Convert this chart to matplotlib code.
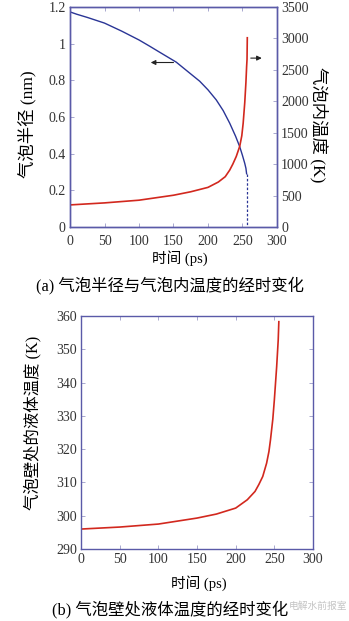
import numpy as np
import matplotlib
matplotlib.use("Agg")
import matplotlib.pyplot as plt

plt.rcParams['font.family'] = ['Liberation Serif', 'Noto Sans CJK SC', 'DejaVu Sans']

# (a) bubble radius (nm)
t_r = [0, 10, 25, 50, 75, 100, 115, 130, 154, 170, 188, 200, 212, 222, 231.5,
       240, 246, 250, 253.3, 255, 256]
r_nm = [1.173, 1.16, 1.143, 1.112, 1.068, 1.02, 0.987, 0.953, 0.899, 0.85, 0.795,
        0.748, 0.693, 0.635, 0.566, 0.495, 0.438, 0.39, 0.347, 0.32, 0.29]

# (a) temperature inside bubble (K)
t_in = [0, 50, 100, 150, 175, 200, 215, 225, 231.5, 236, 241, 246, 249, 251, 253.3,
        255, 256, 256.6, 257]
T_in = [351, 383, 426, 505, 560, 630, 715, 800, 905, 1000, 1122, 1283, 1450, 1650,
        1977, 2300, 2550, 2666, 3010]

# (b) liquid temperature at bubble wall (K)
t_w = [0, 50, 100, 150, 175, 200, 215, 225, 230, 235, 240, 243, 245, 248, 250, 253,
       255, 255.8]
T_w = [296.0, 296.6, 297.5, 299.3, 300.5, 302.3, 304.8, 307.3, 309.4, 311.8, 315.8,
       319.3, 322.8, 329.0, 334.8, 344.8, 352.8, 358.3]

xticks = [0, 50, 100, 150, 200, 250, 300]
frame = '#5a5aa8'
red = '#d2281e'
blue = '#2a3596'
tick_col = '#333333'

fig = plt.figure(figsize=(3.49, 6.21), dpi=100)


def style(ax):
    for s in ax.spines.values():
        s.set_color(frame)
        s.set_linewidth(1.0)
    ax.tick_params(direction='in', length=3, width=0.6, color='#9a9ac8', labelsize=10,
                   labelcolor=tick_col, pad=3)


# top panel
ax1 = fig.add_axes([0.2006, 0.6345, 0.593, 0.3543])
ax1.plot(t_r, r_nm, color=blue, lw=1.0)
ax1.plot([t_r[-1], t_r[-1]], [r_nm[-1], 0], color=blue, lw=0.9, ls=(0, (2, 1.5)))
ax1.set_xlim(0, 300)
ax1.set_ylim(0, 1.2)
ax1.set_xticks(xticks)
ax1.set_yticks([0, 0.2, 0.4, 0.6, 0.8, 1, 1.2])
ax1.set_yticklabels(['0', '0.2', '0.4', '0.6', '0.8', '1', '1.2'])
ax1.annotate('', xy=(113, 0.897), xytext=(154, 0.897),
             arrowprops=dict(arrowstyle='-|>', color='#222222', lw=0.8, mutation_scale=7))
ax1.annotate('', xy=(282, 0.921), xytext=(258, 0.921),
             arrowprops=dict(arrowstyle='-|>', color='#222222', lw=0.8, mutation_scale=7))

ax1r = ax1.twinx()
ax1r.plot(t_in, T_in, color=red, lw=1.2)
ax1r.set_ylim(0, 3500)
ax1r.set_yticks(range(0, 3501, 500))
style(ax1)
style(ax1r)
ax1.tick_params(top=True)
ax1.tick_params(axis='x', pad=6)

fig.text(0.078, 0.80, '气泡半径 (nm)', rotation=90, ha='center', va='center', fontsize=12.5)
fig.text(0.915, 0.8, '气泡内温度 (K)', rotation=-90, ha='center', va='center', fontsize=12.5)
fig.text(0.516, 0.584, '时间 (ps)', ha='center', va='center', fontsize=10.5)
fig.text(0.487, 0.541, '(a) 气泡半径与气泡内温度的经时变化', ha='center', va='center',
         fontsize=11.8)

# bottom panel
ax2 = fig.add_axes([0.2321, 0.1159, 0.6648, 0.3752])
ax2.plot(t_w, T_w, color=red, lw=1.2)
ax2.set_xlim(0, 300)
ax2.set_ylim(290, 360)
ax2.set_xticks(xticks)
ax2.set_yticks(range(290, 361, 10))
style(ax2)
ax2.tick_params(top=True, right=True)

fig.text(0.092, 0.319, '气泡壁处的液体温度 (K)', rotation=90, ha='center', va='center',
         fontsize=11.8)
fig.text(0.57, 0.061, '时间 (ps)', ha='center', va='center', fontsize=10.5)
fig.text(0.487, 0.018, '(b) 气泡壁处液体温度的经时变化', ha='center', va='center',
         fontsize=11.8)
fig.text(0.995, 0.024, '电解水前报室', ha='right', va='center', fontsize=7,
         color='#c4c4c4')

fig.savefig('out.png', dpi=100)
